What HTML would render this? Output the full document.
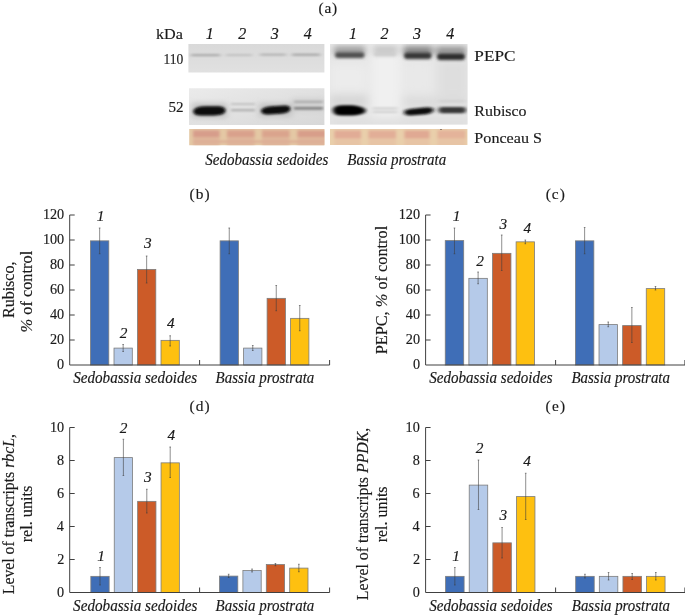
<!DOCTYPE html>
<html><head><meta charset="utf-8"><title>Figure</title>
<style>
html,body{margin:0;padding:0;background:#fff;}
svg{display:block;font-family:"Liberation Serif",serif;}
text{white-space:pre;}
</style></head><body>
<svg width="685" height="615" viewBox="0 0 685 615">
<rect width="685" height="615" fill="#ffffff"/>
<defs>
<filter id="b1" x="-20%" y="-100%" width="140%" height="300%"><feGaussianBlur stdDeviation="1.4 1.0"/></filter>
<filter id="b2" x="-20%" y="-100%" width="140%" height="300%"><feGaussianBlur stdDeviation="1.9 1.3"/></filter>
<filter id="b2p" x="-20%" y="-100%" width="140%" height="300%"><feGaussianBlur stdDeviation="1.7 1.5"/></filter>
<filter id="b3" x="-30%" y="-100%" width="160%" height="300%"><feGaussianBlur stdDeviation="3 2.5"/></filter>
<filter id="b5" x="-30%" y="-30%" width="160%" height="160%"><feGaussianBlur stdDeviation="5 5"/></filter>
<filter id="b05" x="-20%" y="-300%" width="140%" height="700%"><feGaussianBlur stdDeviation="2 0.8"/></filter>
<filter id="bp" x="-20%" y="-50%" width="140%" height="200%"><feGaussianBlur stdDeviation="1.5 1.1"/></filter>
<linearGradient id="gA" x1="0" y1="0" x2="0" y2="1"><stop offset="0" stop-color="#d9d9d9"/><stop offset="1" stop-color="#e1e1e1"/></linearGradient>
<linearGradient id="gB" x1="0" y1="0" x2="1" y2="1"><stop offset="0" stop-color="#ebebeb"/><stop offset="1" stop-color="#d7d7d7"/></linearGradient>
<clipPath id="cA"><rect x="188.4" y="44" width="136" height="28.5"/></clipPath>
<clipPath id="cB"><rect x="189" y="88.25" width="135.4" height="36.75"/></clipPath>
<clipPath id="cC"><rect x="330" y="44" width="137.5" height="80.5"/></clipPath>
<clipPath id="cD"><rect x="189.2" y="129" width="135.2" height="16.3"/></clipPath>
<clipPath id="cE"><rect x="330" y="129" width="137.4" height="15.9"/></clipPath>
</defs>
<!-- PEPC left -->
<g clip-path="url(#cA)">
<rect x="188" y="43" width="138" height="31" fill="url(#gA)"/>
<g filter="url(#b05)">
<rect x="191" y="54.2" width="29" height="1.9" fill="#a2a2a2"/>
<rect x="226" y="54.3" width="26" height="1.6" fill="#b8b8b8"/>
<rect x="260" y="53.7" width="26" height="1.9" fill="#acacac"/>
<rect x="292" y="53.7" width="28" height="2.0" fill="#a0a0a0"/>
</g>
</g>
<!-- Rubisco left -->
<g clip-path="url(#cB)">
<rect x="188" y="87" width="138" height="40" fill="url(#gB)"/>
<g filter="url(#b3)">
<rect x="192" y="103" width="35" height="15" fill="#c2c2c2"/>
<rect x="259" y="103" width="33" height="14" fill="#c4c4c4"/>
<rect x="292" y="98" width="32" height="14" fill="#d2d2d2"/>
</g>
<g filter="url(#b1)">
<path d="M193.2 111 Q194.5 106.3 206 106.3 H219 Q225.8 107 225.5 110.8 Q225 115.2 214 115.6 H202 Q193.2 115.8 193.2 111Z" fill="#070707"/>
<path d="M261 110.6 Q262 106.8 272 106.2 L285 105.5 Q290.5 105.6 290.5 109 Q290 113 280 113.8 L268 114.6 Q261 114.6 261 110.6Z" fill="#080808"/>
<rect x="231" y="103.2" width="24" height="1.8" fill="#bebebe"/>
<rect x="231" y="109" width="24" height="2.3" fill="#b0b0b0"/>
<rect x="294" y="100.8" width="29" height="2.0" fill="#a8a8a8"/>
<rect x="294" y="107" width="29" height="2.6" fill="#7e7e7e"/>
</g>
</g>
<!-- right panel -->
<g clip-path="url(#cC)">
<rect x="329" y="43" width="140" height="83" fill="#e6e6e6"/>
<g filter="url(#b5)">
<rect x="371" y="40" width="30" height="90" fill="#f0f0f0"/>
<rect x="330" y="64" width="36" height="28" fill="#ececec"/>
<rect x="404" y="62" width="28" height="30" fill="#e9e9e9"/>
<rect x="438" y="60" width="30" height="36" fill="#dedede"/>
<rect x="330" y="96" width="38" height="10" fill="#d2d2d2"/>
<rect x="402" y="98" width="66" height="8" fill="#d8d8d8"/>
<rect x="330" y="118" width="140" height="10" fill="#dedede"/>
</g>
<g filter="url(#b3)">
<rect x="334" y="46" width="31" height="9" fill="#a4a4a4"/>
<rect x="403.5" y="46" width="29" height="9" fill="#8e8e8e"/>
<rect x="436" y="46.5" width="30" height="9" fill="#989898"/>
<rect x="373" y="45" width="25" height="10" fill="#cacaca"/>
</g>
<g filter="url(#b2p)">
<rect x="335" y="52.2" width="29.5" height="5.8" rx="2.9" fill="#4e4e4e"/>
<rect x="404" y="52.6" width="27.5" height="6.4" rx="3.2" fill="#363636"/>
<rect x="437" y="53.6" width="28" height="6.4" rx="3.2" fill="#2a2a2a"/>
<rect x="374" y="53.8" width="22" height="1.6" fill="#bdbdbd"/>
</g>
<g filter="url(#b2)">
<path d="M332.8 110 Q333 105.2 343 105.2 H353 Q365.8 107 365.8 110.8 Q365.5 114.6 354 115.5 H343 Q332.8 116 332.8 110Z" fill="#060606"/>
<rect x="372.5" y="107.6" width="25" height="1.6" fill="#c6c6c6"/>
<rect x="372.5" y="111.2" width="25" height="1.6" fill="#c8c8c8"/>
<path d="M404 112 Q404.5 109.3 412 108.7 L427 107.2 Q434 107 433.6 110.3 Q433 113.8 424 114.6 L410 115.6 Q404 115.6 404 112Z" fill="#0e0e0e"/>
<rect x="438.5" y="107" width="27.5" height="6.2" rx="3.1" fill="#383838"/>
<rect x="439" y="100.4" width="26" height="1.6" fill="#cdcdcd"/>
</g>
</g>
<!-- Ponceau -->
<g clip-path="url(#cD)">
<rect x="188" y="128" width="138" height="19" fill="#e4c8a4"/>
<g filter="url(#bp)">
<rect x="193" y="129.5" width="26.5" height="17" fill="#dfb59a"/>
<rect x="227" y="129.5" width="27.5" height="17" fill="#dfb59a"/>
<rect x="262" y="129.5" width="27.5" height="17" fill="#dfb59a"/>
<rect x="297.5" y="129.5" width="29" height="17" fill="#dfb59a"/>
<rect x="193" y="130.8" width="26.5" height="6.2" fill="#d79d8b"/>
<rect x="227" y="130.8" width="27.5" height="6.2" fill="#d9a18c"/>
<rect x="262" y="130.8" width="27.5" height="6.2" fill="#daa48d"/>
<rect x="297.5" y="130.8" width="29" height="6.2" fill="#d89e8a"/>
<rect x="193" y="140.5" width="134" height="2.2" fill="#ddad95"/>
</g>
</g>
<g clip-path="url(#cE)">
<rect x="329" y="128" width="140" height="19" fill="#e9cfab"/>
<g filter="url(#bp)">
<rect x="334.5" y="129.5" width="26.5" height="17" fill="#e7c4a5"/>
<rect x="368.5" y="129.5" width="27.5" height="17" fill="#e7c4a5"/>
<rect x="404.5" y="129.5" width="25" height="17" fill="#e7c4a5"/>
<rect x="437.5" y="129.5" width="28" height="17" fill="#e7c4a5"/>
<rect x="334.5" y="130.8" width="26.5" height="7.5" fill="#e1ac96"/>
<rect x="368.5" y="130.8" width="27.5" height="7.5" fill="#e2ae97"/>
<rect x="404.5" y="130.8" width="25" height="7.5" fill="#e0a993"/>
<rect x="437.5" y="130.8" width="28" height="7.5" fill="#e4b39a"/>
</g>
<circle cx="441" cy="129.4" r="0.6" fill="#4a3a30"/>
</g>

<text x="318.55" y="12.70" font-size="15.40" letter-spacing="0.81" fill="#1a1a1a" stroke="#1a1a1a" stroke-width="0.16">(a)</text>
<text transform="translate(155.88 39.00) scale(1.0570 1)" font-size="15.30" fill="#1a1a1a" stroke="#1a1a1a" stroke-width="0.16">kDa</text>
<text transform="translate(163.42 64.00) scale(0.8962 1)" font-size="15.10" fill="#1a1a1a" stroke="#1a1a1a" stroke-width="0.16">110</text>
<text transform="translate(168.43 112.00) scale(0.9999 1)" font-size="15.10" fill="#1a1a1a" stroke="#1a1a1a" stroke-width="0.16">52</text>
<text transform="translate(205.83 39.00) scale(1.0000 1)" font-size="16.00" fill="#1a1a1a" stroke="#1a1a1a" stroke-width="0.16"><tspan font-style="italic">1</tspan></text>
<text transform="translate(238.18 39.00) scale(1.0000 1)" font-size="16.00" fill="#1a1a1a" stroke="#1a1a1a" stroke-width="0.16"><tspan font-style="italic">2</tspan></text>
<text transform="translate(270.80 39.00) scale(1.0000 1)" font-size="16.00" fill="#1a1a1a" stroke="#1a1a1a" stroke-width="0.16"><tspan font-style="italic">3</tspan></text>
<text transform="translate(303.66 39.00) scale(1.0000 1)" font-size="16.00" fill="#1a1a1a" stroke="#1a1a1a" stroke-width="0.16"><tspan font-style="italic">4</tspan></text>
<text transform="translate(349.08 39.00) scale(1.0000 1)" font-size="16.00" fill="#1a1a1a" stroke="#1a1a1a" stroke-width="0.16"><tspan font-style="italic">1</tspan></text>
<text transform="translate(380.43 39.00) scale(1.0000 1)" font-size="16.00" fill="#1a1a1a" stroke="#1a1a1a" stroke-width="0.16"><tspan font-style="italic">2</tspan></text>
<text transform="translate(413.05 39.00) scale(1.0000 1)" font-size="16.00" fill="#1a1a1a" stroke="#1a1a1a" stroke-width="0.16"><tspan font-style="italic">3</tspan></text>
<text transform="translate(446.16 39.00) scale(1.0000 1)" font-size="16.00" fill="#1a1a1a" stroke="#1a1a1a" stroke-width="0.16"><tspan font-style="italic">4</tspan></text>
<text transform="translate(474.33 60.50) scale(1.1245 1)" font-size="15.30" fill="#1a1a1a" stroke="#1a1a1a" stroke-width="0.16">PEPC</text>
<text transform="translate(474.36 115.50) scale(1.0417 1)" font-size="15.30" fill="#1a1a1a" stroke="#1a1a1a" stroke-width="0.16">Rubisco</text>
<text transform="translate(474.36 142.50) scale(1.0540 1)" font-size="15.30" fill="#1a1a1a" stroke="#1a1a1a" stroke-width="0.16">Ponceau S</text>
<text transform="translate(205.31 165.00) scale(0.9510 1)" font-size="15.80" fill="#1a1a1a" stroke="#1a1a1a" stroke-width="0.16"><tspan font-style="italic">Sedobassia sedoides</tspan></text>
<text transform="translate(347.35 165.00) scale(0.9486 1)" font-size="15.80" fill="#1a1a1a" stroke="#1a1a1a" stroke-width="0.16"><tspan font-style="italic">Bassia prostrata</tspan></text>
<rect x="90.50" y="240.85" width="18.30" height="124.15" fill="#3F6EB7" stroke="#7c7c7c" stroke-width="0.8"/>
<path d="M99.65 228.00 V253.75 M98.85 228.00 h1.6 M98.85 253.75 h1.6" stroke="#3c3c3c" stroke-width="0.58" fill="none"/>
<rect x="114.00" y="348.10" width="18.30" height="16.90" fill="#B5CAE9" stroke="#7c7c7c" stroke-width="0.8"/>
<path d="M123.15 344.50 V351.50 M122.35 344.50 h1.6 M122.35 351.50 h1.6" stroke="#3c3c3c" stroke-width="0.58" fill="none"/>
<rect x="137.50" y="269.40" width="18.30" height="95.60" fill="#CC5B28" stroke="#7c7c7c" stroke-width="0.8"/>
<path d="M146.65 256.00 V283.00 M145.85 256.00 h1.6 M145.85 283.00 h1.6" stroke="#3c3c3c" stroke-width="0.58" fill="none"/>
<rect x="161.00" y="340.35" width="18.30" height="24.65" fill="#FEC010" stroke="#7c7c7c" stroke-width="0.8"/>
<path d="M170.15 335.75 V346.00 M169.35 335.75 h1.6 M169.35 346.00 h1.6" stroke="#3c3c3c" stroke-width="0.58" fill="none"/>
<rect x="220.10" y="240.85" width="18.30" height="124.15" fill="#3F6EB7" stroke="#7c7c7c" stroke-width="0.8"/>
<path d="M229.25 228.00 V253.75 M228.45 228.00 h1.6 M228.45 253.75 h1.6" stroke="#3c3c3c" stroke-width="0.58" fill="none"/>
<rect x="243.60" y="348.10" width="18.30" height="16.90" fill="#B5CAE9" stroke="#7c7c7c" stroke-width="0.8"/>
<path d="M252.75 345.50 V350.50 M251.95 345.50 h1.6 M251.95 350.50 h1.6" stroke="#3c3c3c" stroke-width="0.58" fill="none"/>
<rect x="267.10" y="298.35" width="18.30" height="66.65" fill="#CC5B28" stroke="#7c7c7c" stroke-width="0.8"/>
<path d="M276.25 285.50 V310.75 M275.45 285.50 h1.6 M275.45 310.75 h1.6" stroke="#3c3c3c" stroke-width="0.58" fill="none"/>
<rect x="290.60" y="318.35" width="18.30" height="46.65" fill="#FEC010" stroke="#7c7c7c" stroke-width="0.8"/>
<path d="M299.75 305.50 V330.75 M298.95 305.50 h1.6 M298.95 330.75 h1.6" stroke="#3c3c3c" stroke-width="0.58" fill="none"/>
<text transform="translate(57.12 368.90) scale(0.9300 1)" font-size="15.30" fill="#1a1a1a" stroke="#1a1a1a" stroke-width="0.16">0</text>
<text transform="translate(50.00 343.90) scale(0.9300 1)" font-size="15.30" fill="#1a1a1a" stroke="#1a1a1a" stroke-width="0.16">20</text>
<text transform="translate(50.00 318.90) scale(0.9300 1)" font-size="15.30" fill="#1a1a1a" stroke="#1a1a1a" stroke-width="0.16">40</text>
<text transform="translate(50.00 293.90) scale(0.9300 1)" font-size="15.30" fill="#1a1a1a" stroke="#1a1a1a" stroke-width="0.16">60</text>
<text transform="translate(50.00 268.90) scale(0.9300 1)" font-size="15.30" fill="#1a1a1a" stroke="#1a1a1a" stroke-width="0.16">80</text>
<text transform="translate(42.89 243.90) scale(0.9300 1)" font-size="15.30" fill="#1a1a1a" stroke="#1a1a1a" stroke-width="0.16">100</text>
<text transform="translate(42.89 218.90) scale(0.9300 1)" font-size="15.30" fill="#1a1a1a" stroke="#1a1a1a" stroke-width="0.16">120</text>
<path d="M69.70 215.00 V365.00 H329.60 M69.70 340.00 h5 M69.70 315.00 h5 M69.70 290.00 h5 M69.70 265.00 h5 M69.70 240.00 h5 M69.70 215.00 h5 M199.60 365.00 v-5 M329.60 365.00 v-5" stroke="#404040" stroke-width="1" fill="none"/>
<text transform="translate(96.73 221.00) scale(1.0000 1)" font-size="15.30" fill="#1a1a1a" stroke="#1a1a1a" stroke-width="0.16"><tspan font-style="italic">1</tspan></text>
<text transform="translate(119.85 337.50) scale(1.0000 1)" font-size="15.30" fill="#1a1a1a" stroke="#1a1a1a" stroke-width="0.16"><tspan font-style="italic">2</tspan></text>
<text transform="translate(143.96 247.50) scale(1.0000 1)" font-size="15.30" fill="#1a1a1a" stroke="#1a1a1a" stroke-width="0.16"><tspan font-style="italic">3</tspan></text>
<text transform="translate(167.08 327.50) scale(1.0000 1)" font-size="15.30" fill="#1a1a1a" stroke="#1a1a1a" stroke-width="0.16"><tspan font-style="italic">4</tspan></text>
<text transform="translate(73.21 382.70) scale(0.9572 1)" font-size="15.80" fill="#1a1a1a" stroke="#1a1a1a" stroke-width="0.16"><tspan font-style="italic">Sedobassia sedoides</tspan></text>
<text transform="translate(215.60 382.70) scale(0.9462 1)" font-size="15.80" fill="#1a1a1a" stroke="#1a1a1a" stroke-width="0.16"><tspan font-style="italic">Bassia prostrata</tspan></text>
<text transform="translate(13.50 318.04) rotate(-90) scale(1.0145 1)" font-size="15.80" fill="#1a1a1a" stroke="#1a1a1a" stroke-width="0.16">Rubisco,</text>
<text transform="translate(31.70 332.54) rotate(-90) scale(1.0367 1)" font-size="15.80" fill="#1a1a1a" stroke="#1a1a1a" stroke-width="0.16"><tspan font-style="italic">%</tspan> of control</text>
<text x="189.45" y="198.60" font-size="15.40" letter-spacing="1.08" fill="#1a1a1a" stroke="#1a1a1a" stroke-width="0.16">(b)</text>
<rect x="445.25" y="240.60" width="18.45" height="124.40" fill="#3F6EB7" stroke="#7c7c7c" stroke-width="0.8"/>
<path d="M454.48 228.00 V253.75 M453.68 228.00 h1.6 M453.68 253.75 h1.6" stroke="#3c3c3c" stroke-width="0.58" fill="none"/>
<rect x="468.87" y="278.35" width="18.45" height="86.65" fill="#B5CAE9" stroke="#7c7c7c" stroke-width="0.8"/>
<path d="M478.10 272.00 V283.75 M477.30 272.00 h1.6 M477.30 283.75 h1.6" stroke="#3c3c3c" stroke-width="0.58" fill="none"/>
<rect x="492.49" y="253.35" width="18.45" height="111.65" fill="#CC5B28" stroke="#7c7c7c" stroke-width="0.8"/>
<path d="M501.72 235.00 V270.50 M500.92 235.00 h1.6 M500.92 270.50 h1.6" stroke="#3c3c3c" stroke-width="0.58" fill="none"/>
<rect x="516.11" y="241.85" width="18.45" height="123.15" fill="#FEC010" stroke="#7c7c7c" stroke-width="0.8"/>
<path d="M525.34 240.00 V243.75 M524.54 240.00 h1.6 M524.54 243.75 h1.6" stroke="#3c3c3c" stroke-width="0.58" fill="none"/>
<rect x="575.40" y="240.85" width="18.45" height="124.15" fill="#3F6EB7" stroke="#7c7c7c" stroke-width="0.8"/>
<path d="M584.62 227.50 V253.75 M583.83 227.50 h1.6 M583.83 253.75 h1.6" stroke="#3c3c3c" stroke-width="0.58" fill="none"/>
<rect x="599.02" y="324.60" width="18.45" height="40.40" fill="#B5CAE9" stroke="#7c7c7c" stroke-width="0.8"/>
<path d="M608.25 322.00 V326.75 M607.45 322.00 h1.6 M607.45 326.75 h1.6" stroke="#3c3c3c" stroke-width="0.58" fill="none"/>
<rect x="622.64" y="325.60" width="18.45" height="39.40" fill="#CC5B28" stroke="#7c7c7c" stroke-width="0.8"/>
<path d="M631.87 307.50 V342.50 M631.07 307.50 h1.6 M631.07 342.50 h1.6" stroke="#3c3c3c" stroke-width="0.58" fill="none"/>
<rect x="646.26" y="288.60" width="18.45" height="76.40" fill="#FEC010" stroke="#7c7c7c" stroke-width="0.8"/>
<path d="M655.49 286.50 V290.00 M654.69 286.50 h1.6 M654.69 290.00 h1.6" stroke="#3c3c3c" stroke-width="0.58" fill="none"/>
<text transform="translate(412.92 368.90) scale(0.9300 1)" font-size="15.30" fill="#1a1a1a" stroke="#1a1a1a" stroke-width="0.16">0</text>
<text transform="translate(405.80 343.90) scale(0.9300 1)" font-size="15.30" fill="#1a1a1a" stroke="#1a1a1a" stroke-width="0.16">20</text>
<text transform="translate(405.80 318.90) scale(0.9300 1)" font-size="15.30" fill="#1a1a1a" stroke="#1a1a1a" stroke-width="0.16">40</text>
<text transform="translate(405.80 293.90) scale(0.9300 1)" font-size="15.30" fill="#1a1a1a" stroke="#1a1a1a" stroke-width="0.16">60</text>
<text transform="translate(405.80 268.90) scale(0.9300 1)" font-size="15.30" fill="#1a1a1a" stroke="#1a1a1a" stroke-width="0.16">80</text>
<text transform="translate(398.69 243.90) scale(0.9300 1)" font-size="15.30" fill="#1a1a1a" stroke="#1a1a1a" stroke-width="0.16">100</text>
<text transform="translate(398.69 218.90) scale(0.9300 1)" font-size="15.30" fill="#1a1a1a" stroke="#1a1a1a" stroke-width="0.16">120</text>
<path d="M425.60 215.00 V365.00 H690.00 M425.60 340.00 h5 M425.60 315.00 h5 M425.60 290.00 h5 M425.60 265.00 h5 M425.60 240.00 h5 M425.60 215.00 h5 M555.60 365.00 v-5 M684.9 365.00 v-5" stroke="#404040" stroke-width="1" fill="none"/>
<text transform="translate(452.73 221.10) scale(1.0000 1)" font-size="15.30" fill="#1a1a1a" stroke="#1a1a1a" stroke-width="0.16"><tspan font-style="italic">1</tspan></text>
<text transform="translate(476.35 266.25) scale(1.0000 1)" font-size="15.30" fill="#1a1a1a" stroke="#1a1a1a" stroke-width="0.16"><tspan font-style="italic">2</tspan></text>
<text transform="translate(499.46 228.60) scale(1.0000 1)" font-size="15.30" fill="#1a1a1a" stroke="#1a1a1a" stroke-width="0.16"><tspan font-style="italic">3</tspan></text>
<text transform="translate(523.58 233.30) scale(1.0000 1)" font-size="15.30" fill="#1a1a1a" stroke="#1a1a1a" stroke-width="0.16"><tspan font-style="italic">4</tspan></text>
<text transform="translate(429.31 382.70) scale(0.9530 1)" font-size="15.80" fill="#1a1a1a" stroke="#1a1a1a" stroke-width="0.16"><tspan font-style="italic">Sedobassia sedoides</tspan></text>
<text transform="translate(571.45 382.70) scale(0.9453 1)" font-size="15.80" fill="#1a1a1a" stroke="#1a1a1a" stroke-width="0.16"><tspan font-style="italic">Bassia prostrata</tspan></text>
<text transform="translate(386.80 354.35) rotate(-90) scale(1.0316 1)" font-size="15.80" fill="#1a1a1a" stroke="#1a1a1a" stroke-width="0.16">PEPC, <tspan font-style="italic">%</tspan> of control</text>
<text x="545.65" y="198.60" font-size="15.40" letter-spacing="1.06" fill="#1a1a1a" stroke="#1a1a1a" stroke-width="0.16">(c)</text>
<rect x="90.85" y="576.35" width="18.30" height="16.15" fill="#3F6EB7" stroke="#7c7c7c" stroke-width="0.8"/>
<path d="M100.00 567.50 V585.00 M99.20 567.50 h1.6 M99.20 585.00 h1.6" stroke="#3c3c3c" stroke-width="0.58" fill="none"/>
<rect x="114.25" y="457.60" width="18.30" height="134.90" fill="#B5CAE9" stroke="#7c7c7c" stroke-width="0.8"/>
<path d="M123.40 439.25 V475.50 M122.60 439.25 h1.6 M122.60 475.50 h1.6" stroke="#3c3c3c" stroke-width="0.58" fill="none"/>
<rect x="137.65" y="501.35" width="18.30" height="91.15" fill="#CC5B28" stroke="#7c7c7c" stroke-width="0.8"/>
<path d="M146.80 489.25 V513.00 M146.00 489.25 h1.6 M146.00 513.00 h1.6" stroke="#3c3c3c" stroke-width="0.58" fill="none"/>
<rect x="161.05" y="462.85" width="18.30" height="129.65" fill="#FEC010" stroke="#7c7c7c" stroke-width="0.8"/>
<path d="M170.20 447.00 V477.50 M169.40 447.00 h1.6 M169.40 477.50 h1.6" stroke="#3c3c3c" stroke-width="0.58" fill="none"/>
<rect x="219.50" y="576.10" width="18.30" height="16.40" fill="#3F6EB7" stroke="#7c7c7c" stroke-width="0.8"/>
<path d="M228.65 574.25 V577.50 M227.85 574.25 h1.6 M227.85 577.50 h1.6" stroke="#3c3c3c" stroke-width="0.58" fill="none"/>
<rect x="242.90" y="570.60" width="18.30" height="21.90" fill="#B5CAE9" stroke="#7c7c7c" stroke-width="0.8"/>
<path d="M252.05 569.00 V572.00 M251.25 569.00 h1.6 M251.25 572.00 h1.6" stroke="#3c3c3c" stroke-width="0.58" fill="none"/>
<rect x="266.30" y="564.60" width="18.30" height="27.90" fill="#CC5B28" stroke="#7c7c7c" stroke-width="0.8"/>
<path d="M275.45 563.50 V565.75 M274.65 563.50 h1.6 M274.65 565.75 h1.6" stroke="#3c3c3c" stroke-width="0.58" fill="none"/>
<rect x="289.70" y="568.10" width="18.30" height="24.40" fill="#FEC010" stroke="#7c7c7c" stroke-width="0.8"/>
<path d="M298.85 564.25 V571.75 M298.05 564.25 h1.6 M298.05 571.75 h1.6" stroke="#3c3c3c" stroke-width="0.58" fill="none"/>
<text transform="translate(57.12 597.10) scale(0.9300 1)" font-size="15.30" fill="#1a1a1a" stroke="#1a1a1a" stroke-width="0.16">0</text>
<text transform="translate(57.37 564.10) scale(0.9300 1)" font-size="15.30" fill="#1a1a1a" stroke="#1a1a1a" stroke-width="0.16">2</text>
<text transform="translate(56.80 531.10) scale(0.9300 1)" font-size="15.30" fill="#1a1a1a" stroke="#1a1a1a" stroke-width="0.16">4</text>
<text transform="translate(57.01 498.10) scale(0.9300 1)" font-size="15.30" fill="#1a1a1a" stroke="#1a1a1a" stroke-width="0.16">6</text>
<text transform="translate(57.12 465.10) scale(0.9300 1)" font-size="15.30" fill="#1a1a1a" stroke="#1a1a1a" stroke-width="0.16">8</text>
<text transform="translate(50.00 432.10) scale(0.9300 1)" font-size="15.30" fill="#1a1a1a" stroke="#1a1a1a" stroke-width="0.16">10</text>
<path d="M69.70 427.50 V592.50 H329.60 M69.70 559.50 h5 M69.70 526.50 h5 M69.70 493.50 h5 M69.70 460.50 h5 M69.70 427.50 h5 M199.60 592.50 v-5 M329.60 592.50 v-5" stroke="#404040" stroke-width="1" fill="none"/>
<text transform="translate(97.23 560.75) scale(1.0000 1)" font-size="15.30" fill="#1a1a1a" stroke="#1a1a1a" stroke-width="0.16"><tspan font-style="italic">1</tspan></text>
<text transform="translate(119.85 432.50) scale(1.0000 1)" font-size="15.30" fill="#1a1a1a" stroke="#1a1a1a" stroke-width="0.16"><tspan font-style="italic">2</tspan></text>
<text transform="translate(143.96 482.00) scale(1.0000 1)" font-size="15.30" fill="#1a1a1a" stroke="#1a1a1a" stroke-width="0.16"><tspan font-style="italic">3</tspan></text>
<text transform="translate(167.58 440.00) scale(1.0000 1)" font-size="15.30" fill="#1a1a1a" stroke="#1a1a1a" stroke-width="0.16"><tspan font-style="italic">4</tspan></text>
<text transform="translate(73.06 610.50) scale(0.9607 1)" font-size="15.80" fill="#1a1a1a" stroke="#1a1a1a" stroke-width="0.16"><tspan font-style="italic">Sedobassia sedoides</tspan></text>
<text transform="translate(215.60 610.50) scale(0.9462 1)" font-size="15.80" fill="#1a1a1a" stroke="#1a1a1a" stroke-width="0.16"><tspan font-style="italic">Bassia prostrata</tspan></text>
<text transform="translate(13.50 594.18) rotate(-90) scale(0.9973 1)" font-size="15.80" fill="#1a1a1a" stroke="#1a1a1a" stroke-width="0.16">Level of transcripts <tspan font-style="italic">rbcL</tspan>,</text>
<text transform="translate(32.25 542.32) rotate(-90) scale(1.0250 1)" font-size="15.80" fill="#1a1a1a" stroke="#1a1a1a" stroke-width="0.16">rel. units</text>
<text x="189.45" y="411.30" font-size="15.40" letter-spacing="1.08" fill="#1a1a1a" stroke="#1a1a1a" stroke-width="0.16">(d)</text>
<rect x="445.60" y="576.35" width="18.50" height="16.15" fill="#3F6EB7" stroke="#7c7c7c" stroke-width="0.8"/>
<path d="M454.85 567.50 V585.00 M454.05 567.50 h1.6 M454.05 585.00 h1.6" stroke="#3c3c3c" stroke-width="0.58" fill="none"/>
<rect x="469.22" y="485.10" width="18.50" height="107.40" fill="#B5CAE9" stroke="#7c7c7c" stroke-width="0.8"/>
<path d="M478.47 460.00 V509.50 M477.67 460.00 h1.6 M477.67 509.50 h1.6" stroke="#3c3c3c" stroke-width="0.58" fill="none"/>
<rect x="492.84" y="542.85" width="18.50" height="49.65" fill="#CC5B28" stroke="#7c7c7c" stroke-width="0.8"/>
<path d="M502.09 527.50 V558.00 M501.29 527.50 h1.6 M501.29 558.00 h1.6" stroke="#3c3c3c" stroke-width="0.58" fill="none"/>
<rect x="516.46" y="496.60" width="18.50" height="95.90" fill="#FEC010" stroke="#7c7c7c" stroke-width="0.8"/>
<path d="M525.71 473.25 V519.50 M524.91 473.25 h1.6 M524.91 519.50 h1.6" stroke="#3c3c3c" stroke-width="0.58" fill="none"/>
<rect x="575.70" y="576.35" width="18.50" height="16.15" fill="#3F6EB7" stroke="#7c7c7c" stroke-width="0.8"/>
<path d="M584.95 574.25 V578.00 M584.15 574.25 h1.6 M584.15 578.00 h1.6" stroke="#3c3c3c" stroke-width="0.58" fill="none"/>
<rect x="599.32" y="576.35" width="18.50" height="16.15" fill="#B5CAE9" stroke="#7c7c7c" stroke-width="0.8"/>
<path d="M608.57 572.50 V580.00 M607.77 572.50 h1.6 M607.77 580.00 h1.6" stroke="#3c3c3c" stroke-width="0.58" fill="none"/>
<rect x="622.94" y="576.35" width="18.50" height="16.15" fill="#CC5B28" stroke="#7c7c7c" stroke-width="0.8"/>
<path d="M632.19 573.50 V579.50 M631.39 573.50 h1.6 M631.39 579.50 h1.6" stroke="#3c3c3c" stroke-width="0.58" fill="none"/>
<rect x="646.56" y="576.35" width="18.50" height="16.15" fill="#FEC010" stroke="#7c7c7c" stroke-width="0.8"/>
<path d="M655.81 572.50 V580.00 M655.01 572.50 h1.6 M655.01 580.00 h1.6" stroke="#3c3c3c" stroke-width="0.58" fill="none"/>
<text transform="translate(412.72 597.10) scale(0.9300 1)" font-size="15.30" fill="#1a1a1a" stroke="#1a1a1a" stroke-width="0.16">0</text>
<text transform="translate(412.97 564.10) scale(0.9300 1)" font-size="15.30" fill="#1a1a1a" stroke="#1a1a1a" stroke-width="0.16">2</text>
<text transform="translate(412.40 531.10) scale(0.9300 1)" font-size="15.30" fill="#1a1a1a" stroke="#1a1a1a" stroke-width="0.16">4</text>
<text transform="translate(412.61 498.10) scale(0.9300 1)" font-size="15.30" fill="#1a1a1a" stroke="#1a1a1a" stroke-width="0.16">6</text>
<text transform="translate(412.72 465.10) scale(0.9300 1)" font-size="15.30" fill="#1a1a1a" stroke="#1a1a1a" stroke-width="0.16">8</text>
<text transform="translate(405.60 432.10) scale(0.9300 1)" font-size="15.30" fill="#1a1a1a" stroke="#1a1a1a" stroke-width="0.16">10</text>
<path d="M425.60 427.50 V592.50 H690.00 M425.60 559.50 h5 M425.60 526.50 h5 M425.60 493.50 h5 M425.60 460.50 h5 M425.60 427.50 h5 M555.60 592.50 v-5 M684.9 592.50 v-5" stroke="#404040" stroke-width="1" fill="none"/>
<text transform="translate(452.23 560.75) scale(1.0000 1)" font-size="15.30" fill="#1a1a1a" stroke="#1a1a1a" stroke-width="0.16"><tspan font-style="italic">1</tspan></text>
<text transform="translate(475.85 453.00) scale(1.0000 1)" font-size="15.30" fill="#1a1a1a" stroke="#1a1a1a" stroke-width="0.16"><tspan font-style="italic">2</tspan></text>
<text transform="translate(499.46 520.00) scale(1.0000 1)" font-size="15.30" fill="#1a1a1a" stroke="#1a1a1a" stroke-width="0.16"><tspan font-style="italic">3</tspan></text>
<text transform="translate(523.33 465.50) scale(1.0000 1)" font-size="15.30" fill="#1a1a1a" stroke="#1a1a1a" stroke-width="0.16"><tspan font-style="italic">4</tspan></text>
<text transform="translate(429.31 610.50) scale(0.9530 1)" font-size="15.80" fill="#1a1a1a" stroke="#1a1a1a" stroke-width="0.16"><tspan font-style="italic">Sedobassia sedoides</tspan></text>
<text transform="translate(571.85 610.50) scale(0.9414 1)" font-size="15.80" fill="#1a1a1a" stroke="#1a1a1a" stroke-width="0.16"><tspan font-style="italic">Bassia prostrata</tspan></text>
<text transform="translate(367.80 600.14) rotate(-90) scale(1.0031 1)" font-size="15.80" fill="#1a1a1a" stroke="#1a1a1a" stroke-width="0.16">Level of transcripts <tspan font-style="italic">PPDK</tspan>,</text>
<text transform="translate(386.60 542.32) rotate(-90) scale(1.0112 1)" font-size="15.80" fill="#1a1a1a" stroke="#1a1a1a" stroke-width="0.16">rel. units</text>
<text x="545.55" y="411.30" font-size="15.40" letter-spacing="1.21" fill="#1a1a1a" stroke="#1a1a1a" stroke-width="0.16">(e)</text>
</svg>
</body></html>
